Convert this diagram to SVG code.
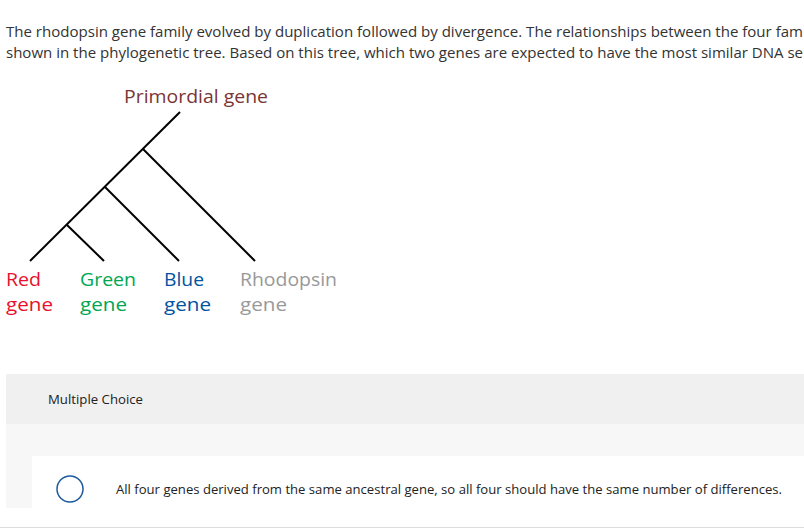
<svg xmlns="http://www.w3.org/2000/svg" width="804" height="531" viewBox="0 0 804 531">
<style>
text{font-family:"Open Sans","Liberation Sans",sans-serif}
.q{font-size:13.6px;fill:#333}
.l{font-size:18px}
.t{stroke:#000;stroke-width:2;fill:none}
</style>
<rect width="804" height="531" fill="#fff"/>
<text class="q" x="6" y="37" textLength="797" lengthAdjust="spacingAndGlyphs">The rhodopsin gene family evolved by duplication followed by divergence. The relationships between the four fam</text>
<text class="q" x="6" y="58" textLength="797" lengthAdjust="spacingAndGlyphs">shown in the phylogenetic tree. Based on this tree, which two genes are expected to have the most similar DNA se</text>
<g id="connectors">
<line class="t" x1="180" y1="112" x2="30" y2="261"/>
<line class="t" x1="143" y1="149" x2="255" y2="261"/>
<line class="t" x1="105" y1="187" x2="179" y2="261"/>
<line class="t" x1="67" y1="225" x2="104" y2="261"/>
</g>
<g id="primordial"><text class="l" x="124" y="103" fill="#7a3535" textLength="144" lengthAdjust="spacingAndGlyphs">Primordial gene</text></g>
<g id="red"><text class="l" x="6" y="286" fill="#e8112d" textLength="35" lengthAdjust="spacingAndGlyphs">Red</text><text class="l" x="6" y="311" fill="#e8112d" textLength="47" lengthAdjust="spacingAndGlyphs">gene</text></g>
<g id="green"><text class="l" x="80" y="286" fill="#00a651" textLength="56" lengthAdjust="spacingAndGlyphs">Green</text><text class="l" x="80" y="311" fill="#00a651" textLength="47" lengthAdjust="spacingAndGlyphs">gene</text></g>
<g id="blue"><text class="l" x="164" y="286" fill="#00539f" textLength="40" lengthAdjust="spacingAndGlyphs">Blue</text><text class="l" x="164" y="311" fill="#00539f" textLength="47" lengthAdjust="spacingAndGlyphs">gene</text></g>
<g id="rhodopsin"><text class="l" x="240" y="286" fill="#999" textLength="97" lengthAdjust="spacingAndGlyphs">Rhodopsin</text><text class="l" x="240" y="311" fill="#999" textLength="47" lengthAdjust="spacingAndGlyphs">gene</text></g>
<rect x="6" y="374" width="798" height="50" fill="#f0f0f0"/>
<text x="48" y="404" font-size="12.5" fill="#222" textLength="95" lengthAdjust="spacingAndGlyphs">Multiple Choice</text>
<rect x="6" y="424" width="798" height="84" fill="#f7f7f7"/>
<rect x="32" y="456" width="772" height="52" fill="#fff"/>
<circle cx="70" cy="489" r="13" fill="#fff" stroke="#1b5a9e" stroke-width="1.5"/>
<text x="116" y="494" font-size="12.5" fill="#222" textLength="666" lengthAdjust="spacingAndGlyphs">All four genes derived from the same ancestral gene, so all four should have the same number of differences.</text>
<line x1="0" y1="527.5" x2="804" y2="527.5" stroke="#ddd"/>
</svg>
